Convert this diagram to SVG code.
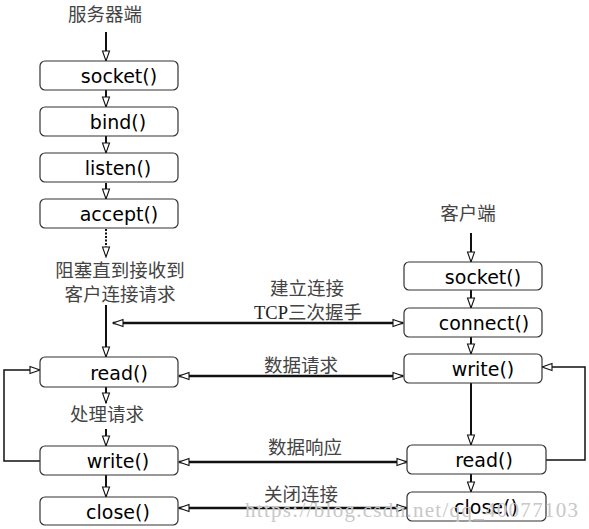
<svg xmlns="http://www.w3.org/2000/svg" width="589" height="529" viewBox="0 0 589 529">
<defs>
<style>
.box{fill:#fff;stroke:#333;stroke-width:1.2}
.fn{font-family:"DejaVu Sans",sans-serif;font-size:19px;fill:#000;text-anchor:middle}
.zh{font-family:"Noto Sans CJK SC",sans-serif;font-size:18.5px;fill:#444;text-anchor:middle}
.v{stroke:#111;stroke-width:2;fill:none}
.h{stroke:#111;stroke-width:2.6;fill:none}
.loop{stroke:#111;stroke-width:1.5;fill:none}
.wm{font-family:"Liberation Serif",serif;font-size:21px;fill:#c8c8c8}
</style>
<marker id="ah" markerUnits="userSpaceOnUse" markerWidth="12" markerHeight="10" viewBox="0 0 12 10" refX="11" refY="5" orient="auto-start-reverse">
<path d="M1,1.5 L11,5 L1,8.5 Z" fill="#fff" stroke="#111" stroke-width="1.1"/>
</marker>
</defs>
<rect width="589" height="529" fill="#fff"/>

<g id="labels">
<text class="zh" x="105" y="21">服务器端</text>
<text class="zh" x="120" y="277">阻塞直到接收到</text>
<text class="zh" x="120" y="301">客户连接请求</text>
<text class="zh" x="107" y="421">处理请求</text>
<text class="zh" x="468" y="220">客户端</text>
<text class="zh" x="307" y="295">建立连接</text>
<text class="zh" x="308" y="319"><tspan font-family="Liberation Serif, serif" fill="#222">TCP</tspan>三次握手</text>
<text class="zh" x="301" y="372">数据请求</text>
<text class="zh" x="305" y="454">数据响应</text>
<text class="zh" x="301" y="501">关闭连接</text>
</g>

<g id="connectors">
<line class="v" x1="106" y1="32" x2="106" y2="61" marker-end="url(#ah)"/>
<line class="v" x1="106" y1="90" x2="106" y2="107" marker-end="url(#ah)"/>
<line class="v" x1="106" y1="136" x2="106" y2="153" marker-end="url(#ah)"/>
<line class="v" x1="106" y1="183" x2="106" y2="199" marker-end="url(#ah)"/>
<line class="v" x1="106" y1="229" x2="106" y2="257" stroke-dasharray="2,1.5" marker-end="url(#ah)"/>
<line class="v" x1="106" y1="305" x2="106" y2="357" marker-end="url(#ah)"/>
<line class="v" x1="106" y1="387" x2="106" y2="403" marker-end="url(#ah)"/>
<line class="v" x1="106" y1="429" x2="106" y2="446" marker-end="url(#ah)"/>
<line class="v" x1="106" y1="475" x2="106" y2="497" marker-end="url(#ah)"/>
<polyline class="loop" points="40,461 4,461 4,370 40,370" marker-end="url(#ah)"/>

<line class="v" x1="471" y1="233" x2="471" y2="262" marker-end="url(#ah)"/>
<line class="v" x1="471" y1="290" x2="471" y2="308" marker-end="url(#ah)"/>
<line class="v" x1="471" y1="337" x2="471" y2="354" marker-end="url(#ah)"/>
<line class="v" x1="471" y1="383" x2="471" y2="445" marker-end="url(#ah)"/>
<line class="v" x1="471" y1="474" x2="471" y2="492" marker-end="url(#ah)"/>
<polyline class="loop" points="546,460 585,460 585,367 542,367" marker-end="url(#ah)"/>

<line class="h" x1="113" y1="323" x2="403" y2="323" marker-start="url(#ah)" marker-end="url(#ah)"/>
<line class="h" x1="179" y1="376" x2="403" y2="376" marker-start="url(#ah)" marker-end="url(#ah)"/>
<line class="h" x1="179" y1="462" x2="407" y2="462" marker-start="url(#ah)" marker-end="url(#ah)"/>
<line class="h" x1="179" y1="508" x2="407" y2="508" marker-start="url(#ah)" marker-end="url(#ah)"/>
</g>

<g id="s-socket"><rect class="box" x="40" y="61" width="138" height="29" rx="5"/><text class="fn" x="119" y="83">socket()</text></g>
<g id="s-bind"><rect class="box" x="40" y="107" width="138" height="29" rx="5"/><text class="fn" x="118" y="129">bind()</text></g>
<g id="s-listen"><rect class="box" x="40" y="153" width="138" height="29" rx="5"/><text class="fn" x="118" y="175">listen()</text></g>
<g id="s-accept"><rect class="box" x="40" y="199" width="138" height="29" rx="5"/><text class="fn" x="119" y="221">accept()</text></g>
<g id="s-read"><rect class="box" x="40" y="357" width="138" height="30" rx="5"/><text class="fn" x="119" y="380">read()</text></g>
<g id="s-write"><rect class="box" x="40" y="446" width="138" height="29" rx="5"/><text class="fn" x="118" y="468">write()</text></g>
<g id="s-close"><rect class="box" x="40" y="497" width="138" height="28" rx="5"/><text class="fn" x="118" y="519">close()</text></g>

<g id="c-socket"><rect class="box" x="404" y="262" width="138" height="28" rx="5"/><text class="fn" x="483" y="284">socket()</text></g>
<g id="c-connect"><rect class="box" x="404" y="308" width="138" height="29" rx="5"/><text class="fn" x="484" y="330">connect()</text></g>
<g id="c-write"><rect class="box" x="404" y="354" width="138" height="29" rx="5"/><text class="fn" x="483" y="376">write()</text></g>
<g id="c-read"><rect class="box" x="407" y="445" width="139" height="29" rx="5"/><text class="fn" x="484" y="467">read()</text></g>
<g id="c-close"><rect class="box" x="407" y="492" width="139" height="29" rx="5"/><text class="fn" x="486" y="514">close()</text></g>

<text class="wm" x="245" y="517" textLength="333">https://blog.csdn.net/qq_40077103</text>
</svg>
